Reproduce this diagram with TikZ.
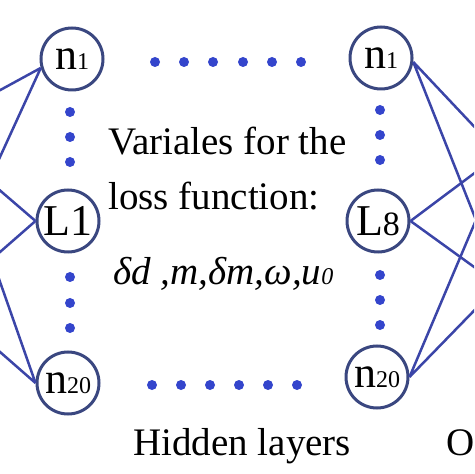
\documentclass[tikz,border=0pt]{standalone}
\usepackage{fontspec}
\setmainfont{Liberation Serif}
\usetikzlibrary{positioning}
\definecolor{ringcol}{HTML}{3A4780}
\definecolor{linecol}{HTML}{3B45A8}
\definecolor{dotcol}{HTML}{3445CC}
\newcommand{\nsub}[2]{#1{\fontsize{12}{12}\selectfont #2}}

\begin{document}
\begin{tikzpicture}[x=0.5pt,y=-0.5pt,
  hid/.style={circle,draw=ringcol,line width=1.5pt,minimum size=31pt,inner sep=0pt,font=\fontsize{22}{22}\selectfont},
  conn/.style={draw=linecol,line width=1.25pt},
  dotc/.style={fill=dotcol},
  lbl/.style={font=\fontsize{19.5}{19.5}\selectfont,inner sep=0pt}]
\useasboundingbox (0,0) rectangle (474,474);
\clip (0,0) rectangle (474,474);
% hidden layer columns, first and last
\node[hid] (ln1) at (72,59) {\nsub{n}{1}};
\node[hid] (lL1) at (68,221) {L1};
\node[hid] (ln20) at (68,383) {\nsub{n}{20}};
\node[hid] (rn1) at (381,58) {\nsub{n}{1}};
\node[hid] (rL8) at (378,221) {L{\fontsize{17}{17}\selectfont 8}};
\node[hid] (rn20) at (377,377) {\nsub{n}{20}};
% free ends of the connectors (input / output nodes lie outside)
\coordinate (in0) at (-40,112);
\coordinate (in1) at (-11,181);
\coordinate (in2) at (-8,259);
\coordinate (in3) at (-40,317);
\coordinate (out0) at (500,154);
\coordinate (out1) at (476,220);
\coordinate (out2) at (499,285);
\draw[conn] (ln1.196) -- (in0) (ln1.196) -- (in1);
\draw[conn] (lL1.west) -- (in1) (lL1.west) -- (in2);
\draw[conn] (ln20.west) -- (in2) (ln20.west) -- (in3);
\draw[conn] (rn1.-7) -- (out0) (rn1.-7) -- (out1);
\draw[conn] (rL8.east) -- (out0) (rL8.east) -- (out2);
\draw[conn] (rn20.east) -- (out1) (rn20.east) -- (out2);
% dots
\foreach \yy in {112,137,162,277,303,328} {\fill[dotc] (70,\yy) circle (2.5pt);}
\foreach \yy in {110,135,160,275,300,325} {\fill[dotc] (380,\yy) circle (2.5pt);}
\foreach \xx in {155,184,213,243,272,301} {\fill[dotc] (\xx,62) circle (2.5pt);}
\foreach \xx in {152,181,210,239,268,297} {\fill[dotc] (\xx,385) circle (2.5pt);}
% texts
\node[lbl,anchor=base west] (var1) at (108,155) {Variales for the};
\node[lbl,anchor=base west] (var2) at (108,210) {loss function:};
\node[lbl,anchor=base west] (var3) at (113,285) {\itshape δd ,m,δm,ω,u{\fontsize{12}{12}\selectfont 0}};
\node[lbl,anchor=base west] (hidlbl) at (133,455) {Hidden layers};
\node[lbl,anchor=base west] (outlbl) at (446,455) {O};
\end{tikzpicture}
\end{document}
